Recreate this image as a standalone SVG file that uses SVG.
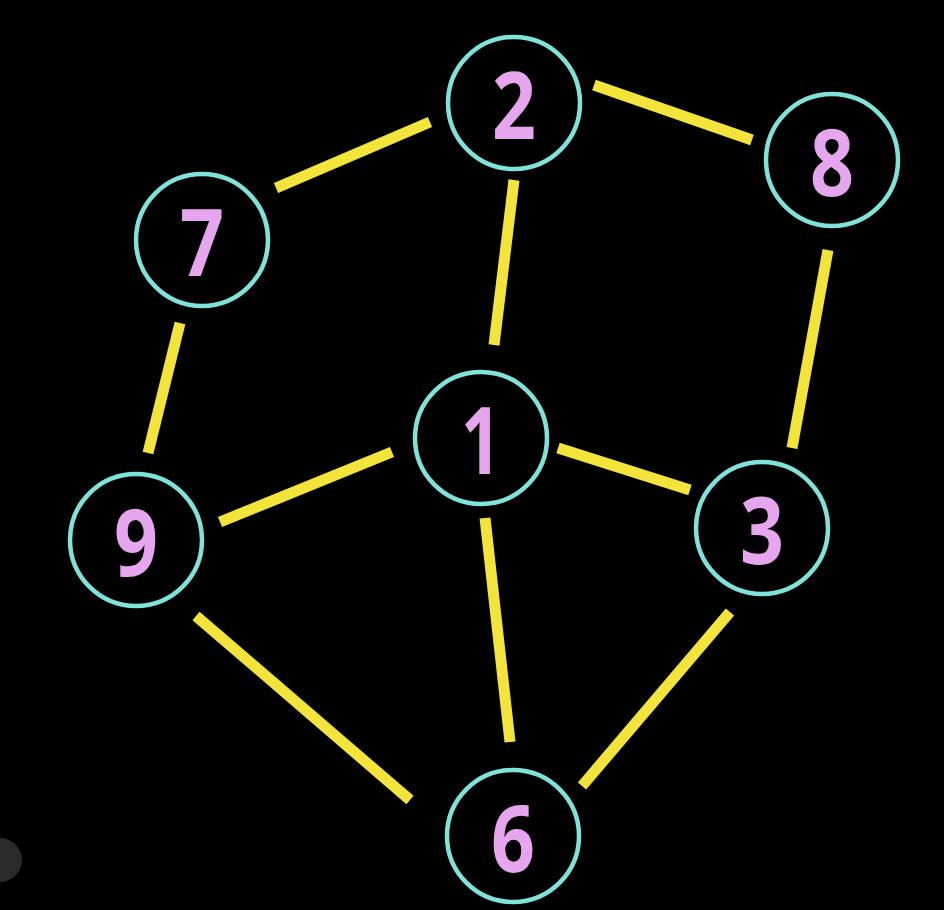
<svg xmlns="http://www.w3.org/2000/svg" width="944" height="910" viewBox="0 0 944 910">
<style>
.e{stroke:#f3e43c;stroke-width:11;stroke-linecap:butt}
.n circle{fill:#000;stroke:#7fe3d9;stroke-width:4.5}
.n text{fill:#e6a6ee;font-family:"Open Sans","DejaVu Sans",sans-serif;font-weight:bold;font-size:94px;text-anchor:middle;dominant-baseline:central}
</style>
<rect width="944" height="910" fill="#000"/>
<circle cx="0" cy="860" r="22" fill="#2a2a2a"/>
<g id="edges">
<line class="e" x1="430" y1="122" x2="276" y2="188"/>
<line class="e" x1="594" y1="85" x2="752" y2="140"/>
<line class="e" x1="514" y1="180" x2="494" y2="345"/>
<line class="e" x1="828" y1="250" x2="792" y2="448"/>
<line class="e" x1="180" y1="323" x2="148" y2="453"/>
<line class="e" x1="392" y1="452" x2="220" y2="522"/>
<line class="e" x1="558" y1="448" x2="690" y2="490"/>
<line class="e" x1="485" y1="518" x2="510" y2="742"/>
<line class="e" x1="196" y1="616" x2="410" y2="800"/>
<line class="e" x1="730" y1="612" x2="582" y2="786"/>
</g>
<g id="n2" class="n"><circle cx="514" cy="103" r="66"/><text x="514" y="103" textLength="44" lengthAdjust="spacingAndGlyphs">2</text></g>
<g id="n8" class="n"><circle cx="832" cy="160" r="66"/><text x="832" y="160" textLength="44" lengthAdjust="spacingAndGlyphs">8</text></g>
<g id="n7" class="n"><circle cx="202" cy="240" r="66"/><text x="202" y="240" textLength="44" lengthAdjust="spacingAndGlyphs">7</text></g>
<g id="n1" class="n"><circle cx="481" cy="438" r="66"/><text x="481" y="438" textLength="40" lengthAdjust="spacingAndGlyphs">1</text></g>
<g id="n9" class="n"><circle cx="136" cy="540" r="66"/><text x="136" y="540" textLength="44" lengthAdjust="spacingAndGlyphs">9</text></g>
<g id="n3" class="n"><circle cx="762" cy="528" r="66"/><text x="762" y="528" textLength="44" lengthAdjust="spacingAndGlyphs">3</text></g>
<g id="n6" class="n"><circle cx="513" cy="836" r="66"/><text x="513" y="836" textLength="44" lengthAdjust="spacingAndGlyphs">6</text></g>
</svg>
